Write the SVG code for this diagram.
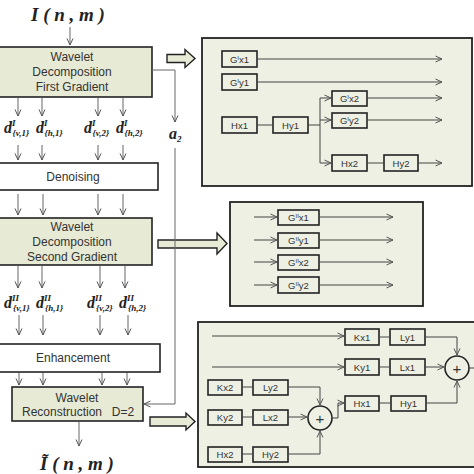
<svg xmlns="http://www.w3.org/2000/svg" width="474" height="474" viewBox="0 0 474 474">
<defs>
<style>
.bg{fill:#ffffff}
.main{fill:#e7ead5;stroke:#222;stroke-width:1.6}
.plain{fill:#ffffff;stroke:#222;stroke-width:1.6}
.panel{fill:#eef0e3;stroke:#222;stroke-width:1.8}
.sb{fill:#eef0e3;stroke:#222;stroke-width:1.6}
.hollow{fill:#e7ead5;stroke:#222;stroke-width:1.4}
.lbl{font-family:"Liberation Sans",Arial,sans-serif;font-size:12px;fill:#333;text-anchor:middle}
.sl{font-family:"Liberation Sans",Arial,sans-serif;font-size:9.5px;fill:#333;text-anchor:middle}
.plus{font-family:"Liberation Sans",Arial,sans-serif;font-size:15px;fill:#333;text-anchor:middle}
.sup{font-size:6px}
.math{font-family:"Liberation Serif","Times New Roman",serif;font-style:italic;font-weight:bold;fill:#222}
.ln{fill:none;stroke:#666;stroke-width:1}
.lk{fill:none;stroke:#444;stroke-width:1}
.circ{fill:#eef0e3;stroke:#222;stroke-width:1.6}
</style>
<marker id="ah" viewBox="0 0 8 8" refX="7.5" refY="4" markerWidth="8" markerHeight="8" markerUnits="userSpaceOnUse" orient="auto">
<path d="M1,1 L7.5,4 L1,7" fill="none" stroke="#555" stroke-width="1"/>
</marker>
</defs>
<rect class="bg" x="0" y="0" width="474" height="474"/>

<g id="title-in">
<text class="math" x="31" y="21" font-size="19">I ( n , m )</text>
</g>
<g id="title-out">
<text class="math" x="40" y="470" font-size="19">Ĩ ( n , m )</text>
</g>

<g id="wd1">
<rect class="main" x="-2" y="47" width="154" height="50"/>
<text class="lbl" x="72" y="61">Wavelet</text>
<text class="lbl" x="72" y="76">Decomposition</text>
<text class="lbl" x="72" y="91">First Gradient</text>
</g>
<g id="denoise">
<rect class="plain" x="-2" y="163" width="160" height="27"/>
<text class="lbl" x="73" y="181">Denoising</text>
</g>
<g id="wd2">
<rect class="main" x="-2" y="218" width="154" height="47"/>
<text class="lbl" x="72" y="231">Wavelet</text>
<text class="lbl" x="72" y="246">Decomposition</text>
<text class="lbl" x="72" y="261">Second Gradient</text>
</g>
<g id="enh">
<rect class="plain" x="-2" y="344" width="162" height="28"/>
<text class="lbl" x="73" y="362">Enhancement</text>
</g>
<g id="wr">
<rect class="main" x="12" y="387" width="131" height="34"/>
<text class="lbl" x="77" y="402">Wavelet</text>
<text class="lbl" x="62" y="416">Reconstruction</text>
<text class="lbl" x="123" y="416">D=2</text>
</g>

<g id="dlabels1">
<text class="math" x="4" y="133" font-size="16">d<tspan font-size="9" dy="-7">I</tspan><tspan font-size="9" dx="-3" dy="10">{v,1}</tspan></text>
<text class="math" x="36" y="133" font-size="16">d<tspan font-size="9" dy="-7">I</tspan><tspan font-size="9" dx="-3" dy="10">{h,1}</tspan></text>
<text class="math" x="84" y="133" font-size="16">d<tspan font-size="9" dy="-7">I</tspan><tspan font-size="9" dx="-3" dy="10">{v,2}</tspan></text>
<text class="math" x="116" y="133" font-size="16">d<tspan font-size="9" dy="-7">I</tspan><tspan font-size="9" dx="-3" dy="10">{h,2}</tspan></text>
<text class="math" x="169" y="139" font-size="16">a<tspan font-size="9" dy="3">2</tspan></text>
</g>
<g id="dlabels2">
<text class="math" x="4" y="308" font-size="16">d<tspan font-size="9" dy="-7">II</tspan><tspan font-size="9" dx="-6" dy="10">{v,1}</tspan></text>
<text class="math" x="36" y="308" font-size="16">d<tspan font-size="9" dy="-7">II</tspan><tspan font-size="9" dx="-6" dy="10">{h,1}</tspan></text>
<text class="math" x="87" y="308" font-size="16">d<tspan font-size="9" dy="-7">II</tspan><tspan font-size="9" dx="-6" dy="10">{v,2}</tspan></text>
<text class="math" x="119" y="308" font-size="16">d<tspan font-size="9" dy="-7">II</tspan><tspan font-size="9" dx="-6" dy="10">{h,2}</tspan></text>
</g>

<g id="hollow-arrows">
<path class="hollow" d="M167,54.5 H185 V49.5 L195,58.5 L185,67.5 V62.5 H167 Z"/>
<path class="hollow" d="M158,240 H217 V233 L227,243.5 L217,254 V248 H158 Z"/>
<path class="hollow" d="M150,417 H186 V413 L195,421.5 L186,430 V426 H150 Z"/>
</g>

<g id="panel1">
<rect class="panel" x="202" y="38" width="270" height="148"/>
<rect class="sb" x="222" y="51" width="35" height="16"/>
<text class="sl" x="239.5" y="62.5">G<tspan class="sup" dy="-3">I</tspan><tspan dy="3">x1</tspan></text>
<rect class="sb" x="222" y="74" width="35" height="16"/>
<text class="sl" x="239.5" y="85.5">G<tspan class="sup" dy="-3">I</tspan><tspan dy="3">y1</tspan></text>
<rect class="sb" x="222" y="117" width="35" height="16"/>
<text class="sl" x="239.5" y="128.5">Hx1</text>
<rect class="sb" x="273" y="117" width="35" height="16"/>
<text class="sl" x="290.5" y="128.5">Hy1</text>
<rect class="sb" x="332" y="91" width="35" height="15"/>
<text class="sl" x="349.5" y="102">G<tspan class="sup" dy="-3">I</tspan><tspan dy="3">x2</tspan></text>
<rect class="sb" x="332" y="113" width="35" height="15"/>
<text class="sl" x="349.5" y="124">G<tspan class="sup" dy="-3">I</tspan><tspan dy="3">y2</tspan></text>
<rect class="sb" x="332" y="155" width="35" height="16"/>
<text class="sl" x="349.5" y="166.5">Hx2</text>
<rect class="sb" x="384" y="155" width="34" height="16"/>
<text class="sl" x="401" y="166.5">Hy2</text>
</g>

<g id="panel2">
<rect class="panel" x="230" y="202" width="193" height="104"/>
<rect class="sb" x="278" y="210" width="41" height="15"/>
<text class="sl" x="298.5" y="221">G<tspan class="sup" dy="-3">II</tspan><tspan dy="3">x1</tspan></text>
<rect class="sb" x="278" y="233" width="41" height="15"/>
<text class="sl" x="298.5" y="244">G<tspan class="sup" dy="-3">II</tspan><tspan dy="3">y1</tspan></text>
<rect class="sb" x="278" y="255" width="41" height="15"/>
<text class="sl" x="298.5" y="266">G<tspan class="sup" dy="-3">II</tspan><tspan dy="3">x2</tspan></text>
<rect class="sb" x="278" y="277" width="41" height="16"/>
<text class="sl" x="298.5" y="288.5">G<tspan class="sup" dy="-3">II</tspan><tspan dy="3">y2</tspan></text>
</g>

<g id="panel3">
<rect class="panel" x="198" y="322" width="278" height="145"/>
<rect class="sb" x="345" y="329" width="34" height="16"/>
<text class="sl" x="362" y="340.5">Kx1</text>
<rect class="sb" x="390" y="329" width="35" height="16"/>
<text class="sl" x="407.5" y="340.5">Ly1</text>
<rect class="sb" x="345" y="359" width="34" height="16"/>
<text class="sl" x="362" y="370.5">Ky1</text>
<rect class="sb" x="390" y="359" width="35" height="16"/>
<text class="sl" x="407.5" y="370.5">Lx1</text>
<rect class="sb" x="345" y="396" width="34" height="15"/>
<text class="sl" x="362" y="407">Hx1</text>
<rect class="sb" x="391" y="396" width="35" height="15"/>
<text class="sl" x="408.5" y="407">Hy1</text>
<rect class="sb" x="208" y="380" width="34" height="15"/>
<text class="sl" x="225" y="391">Kx2</text>
<rect class="sb" x="253" y="380" width="35" height="15"/>
<text class="sl" x="270.5" y="391">Ly2</text>
<rect class="sb" x="208" y="410" width="34" height="15"/>
<text class="sl" x="225" y="421">Ky2</text>
<rect class="sb" x="253" y="410" width="35" height="15"/>
<text class="sl" x="270.5" y="421">Lx2</text>
<rect class="sb" x="208" y="447" width="34" height="15"/>
<text class="sl" x="225" y="458">Hx2</text>
<rect class="sb" x="253" y="447" width="35" height="15"/>
<text class="sl" x="270.5" y="458">Hy2</text>
<circle class="circ" cx="457" cy="368" r="12"/>
<text class="plus" x="457" y="373.5">+</text>
<circle class="circ" cx="320" cy="418" r="12"/>
<text class="plus" x="320" y="423.5">+</text>
</g>

<g id="connectors">
<line class="ln" x1="70" y1="27" x2="70" y2="45" marker-end="url(#ah)"/>
<line class="ln" x1="18" y1="98" x2="18" y2="116" marker-end="url(#ah)"/>
<line class="ln" x1="42" y1="98" x2="42" y2="116" marker-end="url(#ah)"/>
<line class="ln" x1="98" y1="98" x2="98" y2="116" marker-end="url(#ah)"/>
<line class="ln" x1="123" y1="98" x2="123" y2="116" marker-end="url(#ah)"/>
<line class="ln" x1="18" y1="145" x2="18" y2="160" marker-end="url(#ah)"/>
<line class="ln" x1="42" y1="145" x2="42" y2="160" marker-end="url(#ah)"/>
<line class="ln" x1="98" y1="145" x2="98" y2="160" marker-end="url(#ah)"/>
<line class="ln" x1="123" y1="145" x2="123" y2="160" marker-end="url(#ah)"/>
<line class="ln" x1="18" y1="194" x2="18" y2="215" marker-end="url(#ah)"/>
<line class="ln" x1="43" y1="194" x2="43" y2="215" marker-end="url(#ah)"/>
<line class="ln" x1="98" y1="194" x2="98" y2="215" marker-end="url(#ah)"/>
<line class="ln" x1="123" y1="194" x2="123" y2="215" marker-end="url(#ah)"/>
<line class="ln" x1="18" y1="266" x2="18" y2="288" marker-end="url(#ah)"/>
<line class="ln" x1="42" y1="266" x2="42" y2="288" marker-end="url(#ah)"/>
<line class="ln" x1="100" y1="266" x2="100" y2="288" marker-end="url(#ah)"/>
<line class="ln" x1="125" y1="266" x2="125" y2="288" marker-end="url(#ah)"/>
<line class="ln" x1="19" y1="315" x2="19" y2="335" marker-end="url(#ah)"/>
<line class="ln" x1="43" y1="315" x2="43" y2="335" marker-end="url(#ah)"/>
<line class="ln" x1="100" y1="315" x2="100" y2="335" marker-end="url(#ah)"/>
<line class="ln" x1="128" y1="315" x2="128" y2="335" marker-end="url(#ah)"/>
<line class="ln" x1="19" y1="373" x2="19" y2="385" marker-end="url(#ah)"/>
<line class="ln" x1="43" y1="373" x2="43" y2="385" marker-end="url(#ah)"/>
<line class="ln" x1="102" y1="373" x2="102" y2="385" marker-end="url(#ah)"/>
<line class="ln" x1="127" y1="373" x2="127" y2="385" marker-end="url(#ah)"/>
<line class="ln" x1="79" y1="422" x2="79" y2="446" marker-end="url(#ah)"/>
<polyline class="ln" points="152,70 175,70 175,122" marker-end="url(#ah)"/>
<polyline class="ln" points="175,148 175,404 144,404" marker-end="url(#ah)"/>
<line class="lk" x1="257" y1="59" x2="442" y2="59" marker-end="url(#ah)"/>
<line class="lk" x1="257" y1="82" x2="442" y2="82" marker-end="url(#ah)"/>
<line class="lk" x1="257" y1="125" x2="273" y2="125"/>
<line class="lk" x1="308" y1="125" x2="320" y2="125"/>
<line class="lk" x1="320" y1="98" x2="320" y2="163"/>
<line class="lk" x1="320" y1="98" x2="331" y2="98" marker-end="url(#ah)"/>
<line class="lk" x1="320" y1="120" x2="331" y2="120" marker-end="url(#ah)"/>
<line class="lk" x1="320" y1="163" x2="331" y2="163" marker-end="url(#ah)"/>
<line class="lk" x1="367" y1="98" x2="442" y2="98" marker-end="url(#ah)"/>
<line class="lk" x1="367" y1="120" x2="442" y2="120" marker-end="url(#ah)"/>
<line class="lk" x1="367" y1="163" x2="384" y2="163"/>
<line class="lk" x1="418" y1="163" x2="442" y2="163" marker-end="url(#ah)"/>
<line class="lk" x1="254" y1="217" x2="277" y2="217" marker-end="url(#ah)"/>
<line class="lk" x1="254" y1="240" x2="277" y2="240" marker-end="url(#ah)"/>
<line class="lk" x1="254" y1="262" x2="277" y2="262" marker-end="url(#ah)"/>
<line class="lk" x1="254" y1="285" x2="277" y2="285" marker-end="url(#ah)"/>
<line class="lk" x1="319" y1="217" x2="393" y2="217" marker-end="url(#ah)"/>
<line class="lk" x1="319" y1="240" x2="393" y2="240" marker-end="url(#ah)"/>
<line class="lk" x1="319" y1="262" x2="393" y2="262" marker-end="url(#ah)"/>
<line class="lk" x1="319" y1="285" x2="393" y2="285" marker-end="url(#ah)"/>
<line class="lk" x1="212" y1="336" x2="344" y2="336" marker-end="url(#ah)"/>
<line class="lk" x1="212" y1="367" x2="344" y2="367" marker-end="url(#ah)"/>
<line class="lk" x1="379" y1="337" x2="390" y2="337"/>
<line class="lk" x1="379" y1="367" x2="390" y2="367"/>
<line class="lk" x1="379" y1="403" x2="391" y2="403"/>
<polyline class="lk" points="425,337 457,337 457,355" marker-end="url(#ah)"/>
<line class="lk" x1="425" y1="367" x2="444" y2="367" marker-end="url(#ah)"/>
<polyline class="lk" points="426,403 457,403 457,381" marker-end="url(#ah)"/>
<line class="lk" x1="469" y1="368" x2="474" y2="368"/>
<line class="lk" x1="242" y1="387" x2="253" y2="387"/>
<line class="lk" x1="242" y1="417" x2="253" y2="417"/>
<line class="lk" x1="242" y1="454" x2="253" y2="454"/>
<polyline class="lk" points="288,387 320,387 320,405" marker-end="url(#ah)"/>
<line class="lk" x1="288" y1="417" x2="307" y2="417" marker-end="url(#ah)"/>
<polyline class="lk" points="288,454 320,454 320,431" marker-end="url(#ah)"/>
<polyline class="lk" points="332,418 338,418 338,403 344,403" marker-end="url(#ah)"/>
</g>
</svg>
